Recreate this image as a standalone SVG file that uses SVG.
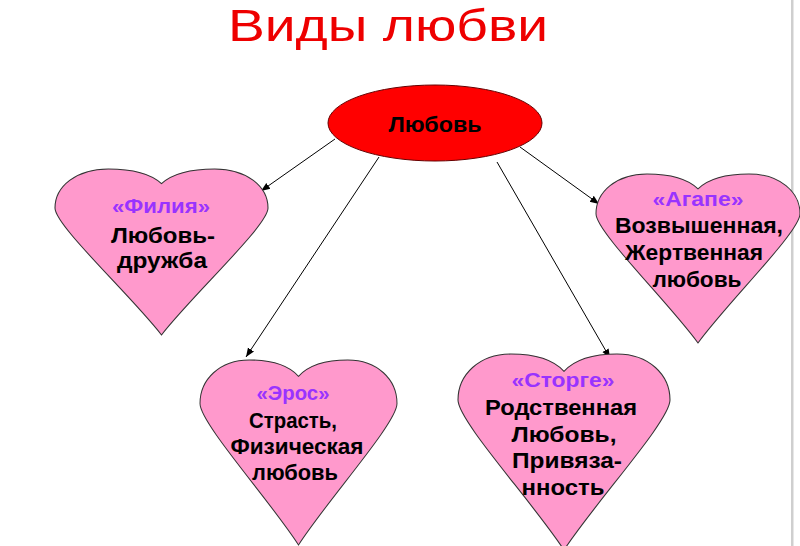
<svg xmlns="http://www.w3.org/2000/svg" xmlns:xlink="http://www.w3.org/1999/xlink" width="800" height="546" viewBox="0 0 800 546">
  <style>
    .title { font-family: "Liberation Sans", Arial, sans-serif; font-size: 44px; fill: #ee0000; }
    .heart { fill: #ff99cc; stroke: #333333; stroke-width: 1; }
    .t { font-family: "Liberation Sans", Arial, sans-serif; font-weight: bold; font-size: 22px; fill: #000000; text-anchor: middle; }
    .p { font-family: "Liberation Sans", Arial, sans-serif; font-weight: bold; font-size: 20px; fill: #9933ff; text-anchor: middle; }
    .conn { stroke: #000000; stroke-width: 1; fill: none; marker-end: url(#arrow); }
  </style>
  <defs>
    <marker id="arrow" viewBox="0 0 10 10" refX="10" refY="5" markerWidth="9" markerHeight="9" markerUnits="userSpaceOnUse" orient="auto">
      <path d="M0,1 L10,5 L0,9 Z" fill="#000000"/>
    </marker>
    <path id="heartShape" d="M100,15 C112,3 130,0 150,0 C180,0 200,18 200,40 C200,58 130,128 100,170 C70,128 0,58 0,40 C0,18 20,0 50,0 C70,0 88,3 100,15 Z"/>
  </defs>

  <rect x="0" y="0" width="800" height="546" fill="#ffffff"/>
  <rect x="791" y="0" width="2.5" height="546" fill="#cfcfcf"/>

  <g id="title">
    <text class="title" x="388" y="41" text-anchor="middle" textLength="320" lengthAdjust="spacingAndGlyphs">Виды любви</text>
  </g>

  <g id="connectors">
    <line class="conn" x1="335" y1="139" x2="261" y2="191"/>
    <line class="conn" x1="379" y1="157" x2="246" y2="357"/>
    <line class="conn" x1="497" y1="162" x2="610" y2="358"/>
    <line class="conn" x1="520" y1="147" x2="599" y2="204"/>
  </g>

  <g id="node-love">
    <ellipse cx="435" cy="123" rx="107" ry="38" fill="#ff0000" stroke="#660000" stroke-width="1"/>
    <text class="t" x="435" y="132" font-size="22" textLength="93" lengthAdjust="spacingAndGlyphs">Любовь</text>
  </g>

  <g id="node-filia">
    <use xlink:href="#heartShape" class="heart" vector-effect="non-scaling-stroke" transform="translate(55,169) scale(1.065,0.976)"/>
    <text class="p" x="161" y="213" textLength="98" lengthAdjust="spacingAndGlyphs">«Филия»</text>
    <text class="t" x="163" y="243" textLength="104" lengthAdjust="spacingAndGlyphs">Любовь-</text>
    <text class="t" x="162" y="268" textLength="90" lengthAdjust="spacingAndGlyphs">дружба</text>
  </g>

  <g id="node-agape">
    <use xlink:href="#heartShape" class="heart" vector-effect="non-scaling-stroke" transform="translate(596,174) scale(1.02,0.994)"/>
    <text class="p" x="698" y="206" textLength="91" lengthAdjust="spacingAndGlyphs">«Агапе»</text>
    <text class="t" x="699" y="233" textLength="168" lengthAdjust="spacingAndGlyphs">Возвышенная,</text>
    <text class="t" x="694" y="260" textLength="138" lengthAdjust="spacingAndGlyphs">Жертвенная</text>
    <text class="t" x="697" y="287" textLength="89" lengthAdjust="spacingAndGlyphs">любовь</text>
  </g>

  <g id="node-eros">
    <use xlink:href="#heartShape" class="heart" vector-effect="non-scaling-stroke" transform="translate(200,360) scale(0.985,1.088)"/>
    <text class="p" x="293" y="400" textLength="73" lengthAdjust="spacingAndGlyphs">«Эрос»</text>
    <text class="t" x="293" y="428" textLength="88" lengthAdjust="spacingAndGlyphs">Страсть,</text>
    <text class="t" x="297" y="454" textLength="133" lengthAdjust="spacingAndGlyphs">Физическая</text>
    <text class="t" x="295" y="480" textLength="86" lengthAdjust="spacingAndGlyphs">любовь</text>
  </g>

  <g id="node-storge">
    <use xlink:href="#heartShape" class="heart" vector-effect="non-scaling-stroke" transform="translate(458,354) scale(1.06,1.153)"/>
    <text class="p" x="563" y="387" textLength="103" lengthAdjust="spacingAndGlyphs">«Сторге»</text>
    <text class="t" x="561" y="415" textLength="152" lengthAdjust="spacingAndGlyphs">Родственная</text>
    <text class="t" x="564" y="442" textLength="105" lengthAdjust="spacingAndGlyphs">Любовь,</text>
    <text class="t" x="567" y="468" textLength="110" lengthAdjust="spacingAndGlyphs">Привяза-</text>
    <text class="t" x="563" y="495" textLength="83" lengthAdjust="spacingAndGlyphs">нность</text>
  </g>
</svg>
